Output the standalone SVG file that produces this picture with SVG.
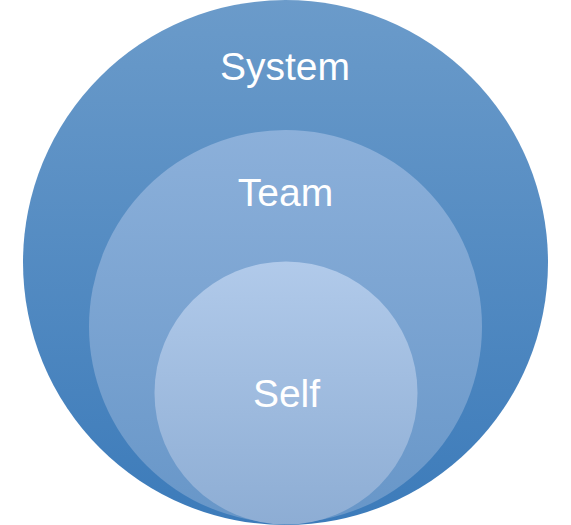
<svg xmlns="http://www.w3.org/2000/svg" width="571" height="525" viewBox="0 0 571 525">
<defs>
<linearGradient id="gOuter" x1="0" y1="0" x2="0" y2="1"><stop offset="0" stop-color="#6b9bca"/><stop offset="1" stop-color="#3c7bba"/></linearGradient>
<linearGradient id="gTeam" x1="0" y1="0" x2="0" y2="1"><stop offset="0" stop-color="#8cb0da"/><stop offset="1" stop-color="#6796c8"/></linearGradient>
<linearGradient id="gSelf" x1="0" y1="0" x2="0" y2="1"><stop offset="0" stop-color="#b1caea"/><stop offset="1" stop-color="#8dadd4"/></linearGradient>
<style>
.lbl{font-family:"Liberation Sans",Arial,sans-serif;font-size:39px;fill:#ffffff;text-anchor:middle}
</style>
</defs>
<g id="system">
<ellipse cx="285.5" cy="262.5" rx="262.5" ry="262.5" fill="url(#gOuter)"/>
<text class="lbl" x="285" y="80">System</text>
</g>
<g id="team">
<circle cx="285.5" cy="326.5" r="196.5" fill="url(#gTeam)"/>
<text class="lbl" x="285.5" y="206">Team</text>
</g>
<g id="self">
<circle cx="286" cy="393" r="131.5" fill="url(#gSelf)"/>
<text class="lbl" x="286.5" y="407">Self</text>
</g>
<g id="connectors"/>
</svg>
